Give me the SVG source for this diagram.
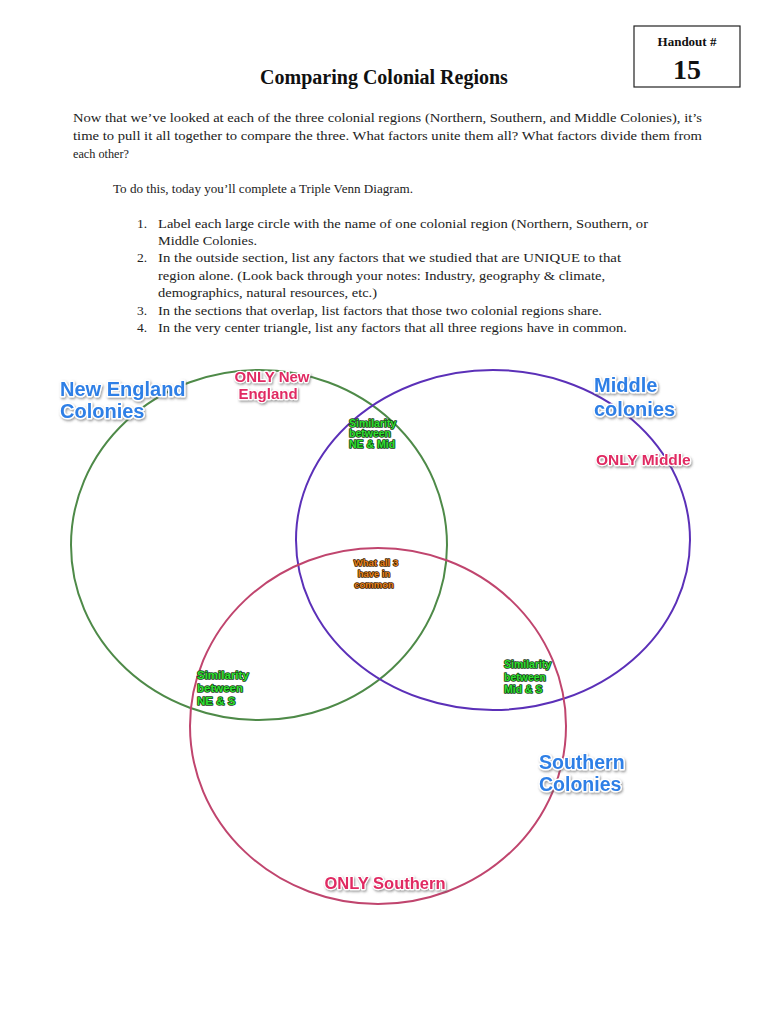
<svg xmlns="http://www.w3.org/2000/svg" width="768" height="1024" viewBox="0 0 768 1024">
<defs>
<filter id="sh" x="-10%" y="-20%" width="120%" height="150%">
<feDropShadow dx="1" dy="1.5" stdDeviation="1" flood-color="#555" flood-opacity="0.6"/>
</filter>
</defs>
<style>
.body{font-family:"Liberation Serif",serif;font-size:13.5px;fill:#222}
.title{font-family:"Liberation Serif",serif;font-size:20px;font-weight:bold;fill:#111}
.big{font-family:"Liberation Sans",Arial,sans-serif;font-weight:bold;font-size:20px;fill:#2e7fe6;stroke:#fff;stroke-width:3;paint-order:stroke;stroke-linejoin:round}
.only{font-family:"Liberation Sans",Arial,sans-serif;font-weight:bold;font-size:15.5px;fill:#e02a62;stroke:#fff;stroke-width:2.5;paint-order:stroke;stroke-linejoin:round}
.sim{font-family:"Liberation Sans",Arial,sans-serif;font-weight:bold;font-size:10.5px;fill:#2ee02e;stroke:#1a3a1a;stroke-width:1.6;paint-order:stroke;stroke-linejoin:round}
.all{font-family:"Liberation Sans",Arial,sans-serif;font-weight:bold;font-size:9.5px;fill:#e8831e;stroke:#3a2000;stroke-width:1.5;paint-order:stroke;stroke-linejoin:round}
.circ{fill:none;stroke-width:2}
</style>
<rect width="768" height="1024" fill="#fff"/>
<g id="handout">
<rect x="634" y="26" width="106" height="61" fill="#fff" stroke="#222" stroke-width="1.2"/>
<text x="687" y="46" text-anchor="middle" style="font-family:'Liberation Serif',serif;font-weight:bold;font-size:13px;fill:#111">Handout #</text>
<text x="687" y="79" text-anchor="middle" style="font-family:'Liberation Serif',serif;font-weight:bold;font-size:28px;fill:#111">15</text>
</g>
<text class="title" x="384" y="84" text-anchor="middle">Comparing Colonial Regions</text>
<g id="intro" class="body">
<text x="73" y="122" textLength="629" lengthAdjust="spacingAndGlyphs">Now that we’ve looked at each of the three colonial regions (Northern, Southern, and Middle Colonies), it’s</text>
<text x="73" y="140" textLength="629" lengthAdjust="spacingAndGlyphs">time to pull it all together to compare the three. What factors unite them all? What factors divide them from</text>
<text x="73" y="158" textLength="56" lengthAdjust="spacingAndGlyphs">each other?</text>
<text x="113" y="193" textLength="300" lengthAdjust="spacingAndGlyphs">To do this, today you’ll complete a Triple Venn Diagram.</text>
<text x="137" y="228">1.</text>
<text x="158" y="228" textLength="490" lengthAdjust="spacingAndGlyphs">Label each large circle with the name of one colonial region (Northern, Southern, or</text>
<text x="158" y="245" textLength="99" lengthAdjust="spacingAndGlyphs">Middle Colonies.</text>
<text x="137" y="262">2.</text>
<text x="158" y="262" textLength="463" lengthAdjust="spacingAndGlyphs">In the outside section, list any factors that we studied that are UNIQUE to that</text>
<text x="158" y="280" textLength="447" lengthAdjust="spacingAndGlyphs">region alone. (Look back through your notes: Industry, geography &amp; climate,</text>
<text x="158" y="297" textLength="219" lengthAdjust="spacingAndGlyphs">demographics, natural resources, etc.)</text>
<text x="137" y="315">3.</text>
<text x="158" y="315" textLength="444" lengthAdjust="spacingAndGlyphs">In the sections that overlap, list factors that those two colonial regions share.</text>
<text x="137" y="332">4.</text>
<text x="158" y="332" textLength="469" lengthAdjust="spacingAndGlyphs">In the very center triangle, list any factors that all three regions have in common.</text>
</g>
<g id="circles">
<ellipse id="ne-circle" class="circ" cx="259" cy="545" rx="188" ry="175" stroke="#4e8a48"/>
<ellipse id="mid-circle" class="circ" cx="493" cy="540" rx="197" ry="170" stroke="#5b30b8"/>
<ellipse id="south-circle" class="circ" cx="378" cy="726" rx="188" ry="178" stroke="#c0456e"/>
</g>
<g id="ne-label" class="big" filter="url(#sh)">
<text x="60" y="396">New England</text>
<text x="60" y="418">Colonies</text>
</g>
<g id="only-ne" class="only" text-anchor="middle" filter="url(#sh)" style="font-size:15px">
<text x="272" y="382">ONLY New</text>
<text x="268" y="399">England</text>
</g>
<g id="ne-mid" class="sim">
<text x="349" y="427">Similarity</text>
<text x="349" y="437">between</text>
<text x="349" y="448">NE &amp; Mid</text>
</g>
<g id="mid-label" class="big" filter="url(#sh)">
<text x="594" y="392">Middle</text>
<text x="594" y="416">colonies</text>
</g>
<g id="only-mid" class="only" filter="url(#sh)">
<text x="596" y="465">ONLY Middle</text>
</g>
<g id="center" class="all" text-anchor="middle">
<text x="376" y="566">What all 3</text>
<text x="374" y="577">have in</text>
<text x="374" y="588">common</text>
</g>
<g id="ne-s" class="sim" style="font-size:11.5px">
<text x="197" y="679">Similarity</text>
<text x="197" y="692">between</text>
<text x="197" y="705">NE &amp; S</text>
</g>
<g id="mid-s" class="sim">
<text x="504" y="668">Similarity</text>
<text x="504" y="681">between</text>
<text x="504" y="693">Mid &amp; S</text>
</g>
<g id="south-label" class="big" filter="url(#sh)" style="font-size:19.5px">
<text x="539" y="769">Southern</text>
<text x="539" y="791">Colonies</text>
</g>
<g id="only-south" class="only" filter="url(#sh)" style="font-size:16.5px">
<text x="385" y="889" text-anchor="middle">ONLY Southern</text>
</g>
</svg>
